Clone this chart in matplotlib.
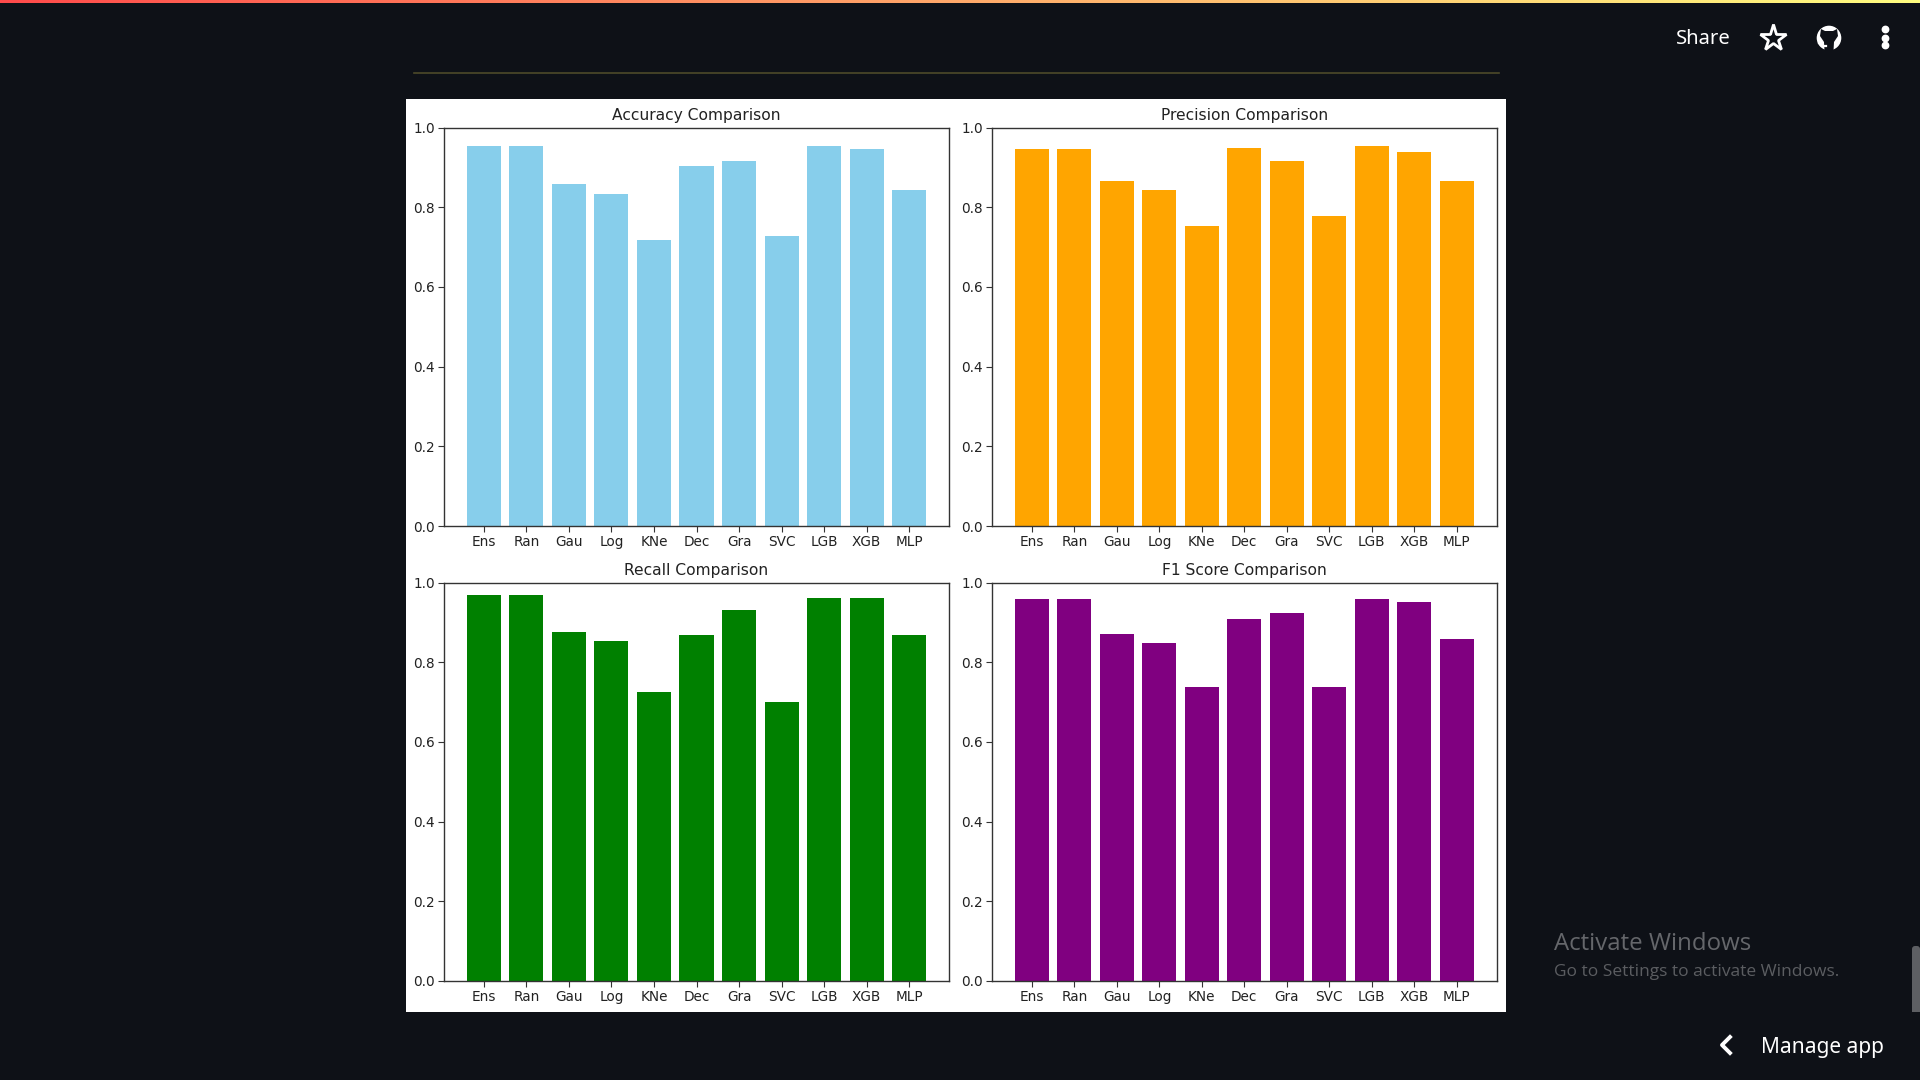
import numpy as np
import matplotlib
matplotlib.use('Agg')
import matplotlib.pyplot as plt
from matplotlib.colors import LinearSegmentedColormap
from matplotlib.patches import Rectangle, Circle, FancyBboxPatch, Polygon

# Model names as shown on the x axis (first three letters)
models = ['Ens', 'Ran', 'Gau', 'Log', 'KNe', 'Dec', 'Gra', 'SVC', 'LGB', 'XGB', 'MLP']

# Scores
accuracy = [0.953, 0.953, 0.857, 0.832, 0.718, 0.903, 0.915, 0.728, 0.953, 0.945, 0.844]
precision = [0.947, 0.947, 0.865, 0.842, 0.754, 0.949, 0.917, 0.779, 0.954, 0.939, 0.867]
recall = [0.968, 0.968, 0.877, 0.853, 0.724, 0.869, 0.930, 0.701, 0.961, 0.961, 0.869]
f1_score = [0.959, 0.959, 0.871, 0.849, 0.739, 0.908, 0.924, 0.739, 0.958, 0.951, 0.857]

W, H = 1920, 1080
BG = '#0e1117'

fig = plt.figure(figsize=(19.2, 10.8), dpi=100, facecolor=BG)

# Page layer in pixel coordinates, for the app frame around the chart
page = fig.add_axes([0, 0, 1, 1])
page.set_xlim(0, W)
page.set_ylim(H, 0)
page.axis('off')

# Gradient strip along the top
strip = LinearSegmentedColormap.from_list('strip', ['#ff4b4b', '#ffa96a', '#fffd80'])
page.imshow(np.linspace(0, 1, 512).reshape(1, -1), cmap=strip, aspect='auto',
            extent=(0, W, 3, 0), zorder=1)
page.set_xlim(0, W)
page.set_ylim(H, 0)

# Divider above the chart
page.plot([414, 1499], [72.7, 72.7], color='#4d4a2a', linewidth=1.2, zorder=1)

# White panel holding the figure
page.add_patch(Rectangle((406, 99), 1100, 913, facecolor='white', edgecolor='none', zorder=1))

# Header
page.text(1703, 39, 'Share', color='white', fontsize=14.6, family='Noto Sans', weight='medium',
          ha='center', va='center', zorder=2)
page.plot([1773], [38], marker='*', markersize=20, markerfacecolor='none',
          markeredgecolor='white', markeredgewidth=2, zorder=2)
page.add_patch(Circle((1829, 38), 12.3, facecolor='white', edgecolor='none', zorder=2))
page.add_patch(Polygon([(1821, 29), (1825, 31), (1833, 31), (1837, 29), (1838, 36), (1834, 42),
                        (1833.5, 51), (1824.5, 51), (1824, 42), (1820, 36)],
                       facecolor=BG, edgecolor='none', zorder=3))
page.plot([1819, 1822, 1826], [43, 46, 46], color='white', linewidth=1.6, zorder=4)
page.plot([1885] * 3, [29, 38, 45], linestyle='none', marker='o', markersize=4.6,
          color='white', zorder=2)

# Watermark, scrollbar and footer
page.text(1554, 943.5, 'Activate Windows', color='#65676b', fontsize=17.3, family='Open Sans',
          ha='left', va='center', zorder=2)
page.text(1554, 971.5, 'Go to Settings to activate Windows.', color='#5b5d61', fontsize=12.5,
          family='Open Sans', ha='left', va='center', zorder=2)
page.add_patch(FancyBboxPatch((1912, 946), 8, 70, boxstyle='round,pad=0,rounding_size=3',
                              facecolor='#5d5f63', edgecolor='none', zorder=1))
page.add_patch(Rectangle((1905, 1012), 15, 12, facecolor=BG, edgecolor='none', zorder=1))
page.plot([1730, 1722, 1730], [1037, 1045, 1053], color='white', linewidth=2.8, zorder=2)
page.text(1822, 1047, 'Manage app', color='white', fontsize=15, family='Noto Sans',
          ha='center', va='center', zorder=2)

# The four comparison charts
panels = [
    ('Accuracy Comparison', accuracy, 'skyblue', (444, 949, 127.5, 526)),
    ('Precision Comparison', precision, 'orange', (992, 1496.5, 127.5, 526)),
    ('Recall Comparison', recall, 'green', (444, 949, 582.5, 981)),
    ('F1 Score Comparison', f1_score, 'purple', (992, 1496.5, 582.5, 981)),
]

for title, values, color, (x0, x1, y0, y1) in panels:
    ax = fig.add_axes([x0 / W, 1 - y1 / H, (x1 - x0) / W, (y1 - y0) / H])
    ax.bar(models, values, color=color)
    ax.set_ylim(0, 1)
    ax.set_title(title, fontsize=11.2, color='#222222', pad=5.5)
    ax.tick_params(axis='both', labelsize=9.8, labelcolor='#222222', color='#333333',
                   length=4, width=0.8, pad=2.6)
    for spine in ax.spines.values():
        spine.set_color('#333333')
        spine.set_linewidth(1.0)

fig.savefig('out.png', dpi=100, facecolor=BG)
